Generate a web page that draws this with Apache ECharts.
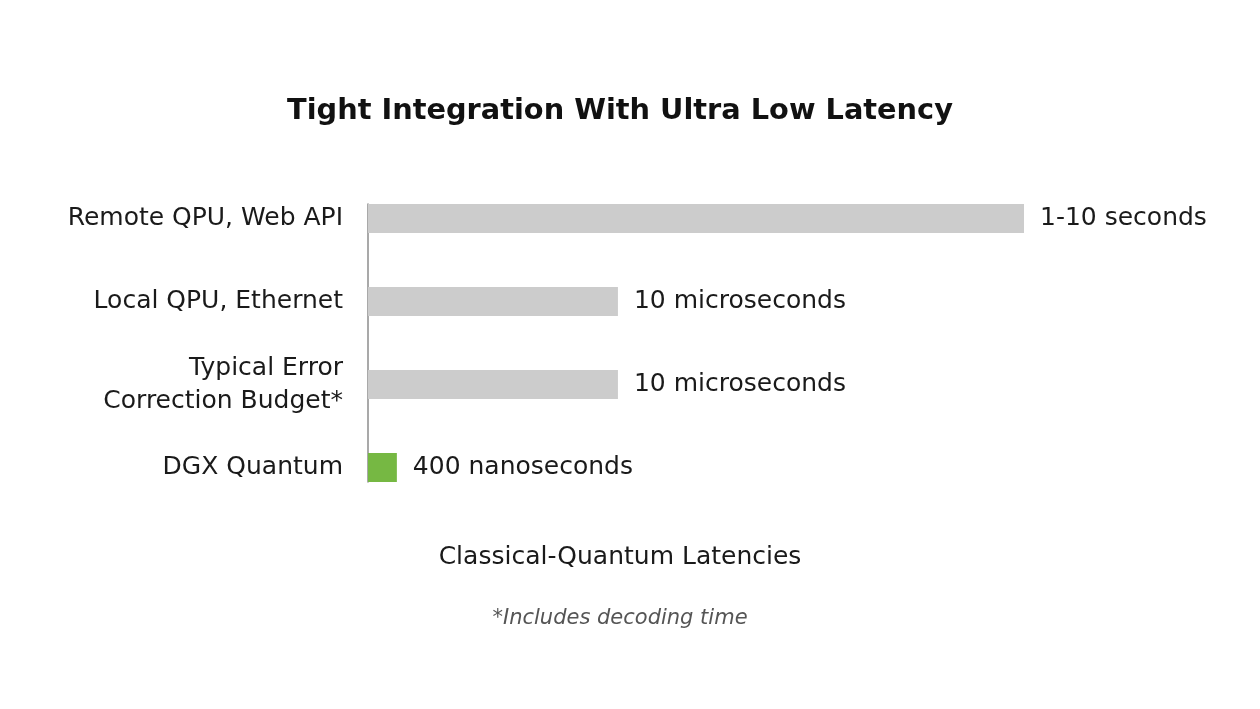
<!DOCTYPE html>
<html>
<head>
<meta charset="utf-8">
<script src="https://cdn.jsdelivr.net/npm/echarts@6/dist/echarts.min.js"></script>
<style>
html,body{margin:0;padding:0;background:#fff;}
#chart{width:1260px;height:709px;}
</style>
</head>
<body>
<div id="chart"></div>
<script>
const categories = ['Remote QPU, Web API', 'Local QPU, Ethernet', 'Typical Error\nCorrection Budget*', 'DGX Quantum'];
const values = [100, 38.1, 38.1, 4.4];
const valueLabels = ['1-10 seconds', '10 microseconds', '10 microseconds', '400 nanoseconds'];
const barColors = ['#cccccc', '#cccccc', '#cccccc', '#76b843'];

const FONT = '"DejaVu Sans", sans-serif';
const chart = echarts.init(document.getElementById('chart'));
chart.setOption({
  backgroundColor: '#ffffff',
  animation: false,
  title: [
    { text: 'Tight Integration With Ultra Low Latency', left: 615, textAlign: 'center', top: 92,
      textStyle: { fontFamily: FONT, fontSize: 28.8, fontWeight: 'bold', color: '#111' } },
    { text: 'Classical-Quantum Latencies', left: 615, textAlign: 'center', top: 540,
      textStyle: { fontFamily: FONT, fontSize: 25, fontWeight: 'normal', color: '#1a1a1a' } },
    { text: '*Includes decoding time', left: 615, textAlign: 'center', top: 603,
      textStyle: { fontFamily: FONT, fontSize: 21, fontWeight: 'normal', fontStyle: 'italic', color: '#555' } }
  ],
  grid: [
    { left: 368, right: 236, top: 177, bottom: 200, containLabel: false },
    { left: 368, right: 236, top: 204, bottom: 227, containLabel: false }
  ],
  xAxis: [
    { type: 'value', gridIndex: 0, min: 0, max: 100, show: false },
    { type: 'value', gridIndex: 1, min: 0, max: 100, show: false }
  ],
  yAxis: [
    { type: 'category', gridIndex: 0, inverse: true, data: categories,
      axisLine: { show: false }, axisTick: { show: false },
      axisLabel: { margin: 25, fontFamily: FONT, fontSize: 25, color: '#1a1a1a', lineHeight: 33, align: 'right', padding: [5, 0, 0, 0] } },
    { type: 'value', gridIndex: 1, min: 0, max: 1,
      axisLine: { show: true, lineStyle: { color: '#8c8c8c', width: 1.5 } },
      axisTick: { show: false }, axisLabel: { show: false }, splitLine: { show: false } }
  ],
  series: [{
    type: 'bar',
    xAxisIndex: 0, yAxisIndex: 0,
    barWidth: 29,
    data: values.map((v, i) => ({ value: v, itemStyle: { color: barColors[i] } })),
    label: {
      show: true, position: 'right', distance: 16,
      fontFamily: FONT, fontSize: 25, color: '#1a1a1a', padding: [5, 0, 0, 0],
      formatter: p => valueLabels[p.dataIndex]
    }
  }]
});
</script>
</body>
</html>
